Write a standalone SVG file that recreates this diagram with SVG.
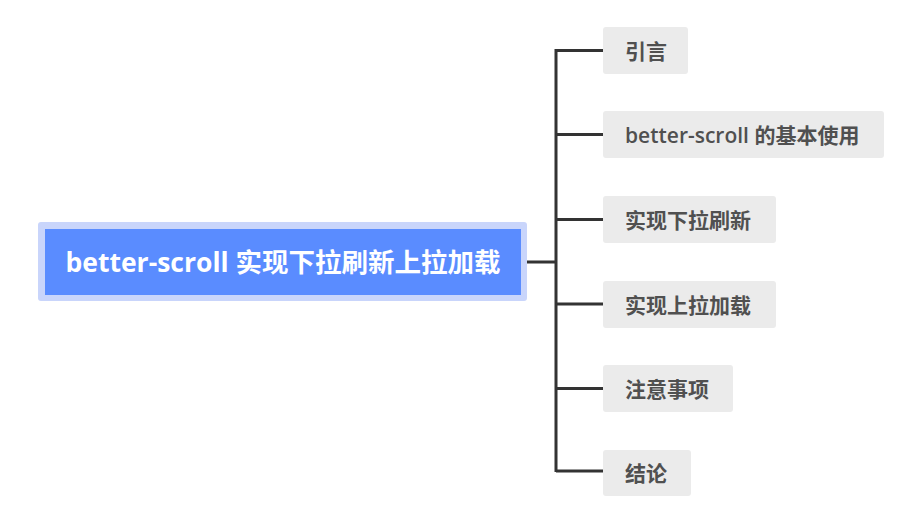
<svg xmlns="http://www.w3.org/2000/svg" width="924" height="520" viewBox="0 0 924 520">
<style>
.child rect{fill:#ebebeb}
.child text{font-family:"Open Sans","Noto Sans CJK SC",sans-serif;font-size:21px;font-weight:600;fill:#505050;dominant-baseline:central}
.root text{font-family:"Open Sans","Noto Sans CJK SC",sans-serif;font-size:26.5px;font-weight:700;fill:#ffffff;dominant-baseline:central;text-anchor:middle}
.conn{fill:none;stroke:#333333;stroke-width:3}
</style>
<rect width="924" height="520" fill="#ffffff"/>
<g id="connectors">
<path class="conn" d="M527 262 H556 M556 49 V472 M556 50.5 H603 M556 134.5 H603 M556 219.5 H603 M556 304 H603 M556 388.5 H603 M556 471 H603"/>
</g>
<g id="root" class="root">
<rect x="38" y="222" width="489" height="79" rx="3" fill="#c9d5fb"/>
<rect x="45" y="229" width="476" height="66" fill="#5a8cff"/>
<text x="283" y="262">better-scroll 实现下拉刷新上拉加载</text>
</g>
<g id="n1" class="child"><rect x="603" y="27" width="85" height="47" rx="3"/><text x="625" y="50.5">引言</text></g>
<g id="n2" class="child"><rect x="603" y="111" width="281" height="47" rx="3"/><text x="625" y="134.5">better-scroll 的基本使用</text></g>
<g id="n3" class="child"><rect x="603" y="196" width="173" height="47" rx="3"/><text x="625" y="219.5">实现下拉刷新</text></g>
<g id="n4" class="child"><rect x="603" y="281" width="173" height="47" rx="3"/><text x="625" y="304.5">实现上拉加载</text></g>
<g id="n5" class="child"><rect x="603" y="365" width="130" height="47" rx="3"/><text x="625" y="388.5">注意事项</text></g>
<g id="n6" class="child"><rect x="603" y="450" width="88" height="46" rx="3"/><text x="625" y="473">结论</text></g>
</svg>
